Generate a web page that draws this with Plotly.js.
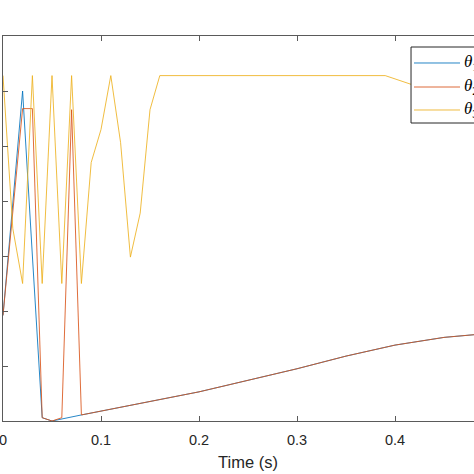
<!DOCTYPE html>
<html>
<head>
<meta charset="utf-8">
<script src="https://cdn.plot.ly/plotly-3.0.1.min.js"></script>
<style>
html, body { margin: 0; padding: 0; overflow: hidden; background: #fff; }
#wrap { position: relative; width: 474px; height: 474px; overflow: hidden; }
#chart { position: absolute; left: -40px; top: 0; width: 560px; height: 474px; }
</style>
</head>
<body>
<div id="wrap"><div id="chart"></div></div>
<script>
// Series names
const seriesNames = ["<i>θ</i><sub>1</sub>", "<i>θ</i><sub>2</sub>", "<i>θ</i><sub>3</sub>"];

// θ1 (rad) vs time (s) — coincides with θ2 after 0.08 s
const time1 = [0, 0.01, 0.02, 0.03, 0.04, 0.05, 0.06, 0.07, 0.08, 0.10, 0.15, 0.20, 0.25, 0.30, 0.35, 0.40, 0.45, 0.50];
const theta1 = [0.96, 1.98, 3.0, 1.5, 0.03, 0.0, 0.02, 0.04, 0.055, 0.09, 0.175, 0.265, 0.37, 0.475, 0.59, 0.69, 0.76, 0.80];

// θ2 (rad) vs time (s)
const time2 = [0, 0.01, 0.02, 0.03, 0.04, 0.05, 0.06, 0.07, 0.08, 0.10, 0.15, 0.20, 0.25, 0.30, 0.35, 0.40, 0.45, 0.50];
const theta2 = [0.96, 1.90, 2.84, 2.84, 0.03, 0.0, 0.03, 2.83, 0.055, 0.09, 0.175, 0.265, 0.37, 0.475, 0.59, 0.69, 0.76, 0.80];

// θ3 (rad) vs time (s)
const time3 = [0, 0.01, 0.02, 0.03, 0.04, 0.05, 0.06, 0.07, 0.08, 0.09, 0.10, 0.11, 0.12, 0.13, 0.14, 0.15, 0.16, 0.39, 0.40, 0.41, 0.42, 0.45, 0.50];
const theta3 = [3.14, 1.75, 1.25, 3.14, 1.25, 3.14, 1.25, 3.14, 1.25, 2.35, 2.65, 3.14, 2.53, 1.49, 1.89, 2.83, 3.14, 3.14, 3.11, 3.08, 3.05, 2.97, 2.85];

// Axis ticks
const xTickVals = [0, 0.1, 0.2, 0.3, 0.4, 0.5];
const xTickText = ["0", "0.1", "0.2", "0.3", "0.4", "0.5"];
const yTickVals = [0, 0.5, 1, 1.5, 2, 2.5, 3, 3.5];
const yTickText = ["0", "0.5", "1", "1.5", "2", "2.5", "3", "3.5"];
const xTitle = "Time (s)";

const colors = ["#0072BD", "#D95319", "#EDB120"];

const traces = [
  {x: time1, y: theta1, name: seriesNames[0]},
  {x: time2, y: theta2, name: seriesNames[1]},
  {x: time3, y: theta3, name: seriesNames[2]}
].map((t, i) => Object.assign(t, {
  type: "scatter", mode: "lines", opacity: 0.85,
  line: {color: colors[i], width: 1}
}));

const axisCommon = {
  showgrid: false, zeroline: false, showline: true, mirror: "ticks",
  linecolor: "#5a5a5a", linewidth: 1,
  ticks: "inside", ticklen: 5, tickcolor: "#5a5a5a", tickwidth: 1,
  automargin: false
};

// custom legend (MATLAB style, long sample lines), in paper coordinates
const legBox = {x0: 0.8327, x1: 1.06, y0: 0.774, y1: 0.9714};
const legLineX = [0.8388, 0.9327];
const legRowY = [0.9299, 0.8675, 0.8078];
const legTextX = 0.9367;

const shapes = [{
  type: "rect", xref: "paper", yref: "paper", layer: "above",
  x0: legBox.x0, x1: legBox.x1, y0: legBox.y0, y1: legBox.y1,
  fillcolor: "#ffffff", line: {color: "#262626", width: 1}
}];
const annotations = [{
  xref: "paper", yref: "paper", x: 0.5, y: 0, yshift: -41,
  xanchor: "center", yanchor: "middle", showarrow: false,
  text: xTitle, font: {size: 16.5, color: "#262626"}
}];
seriesNames.forEach((nm, i) => {
  shapes.push({
    type: "line", xref: "paper", yref: "paper", layer: "above",
    x0: legLineX[0], x1: legLineX[1], y0: legRowY[i], y1: legRowY[i],
    opacity: 0.85, line: {color: colors[i], width: 1}
  });
  annotations.push({
    xref: "paper", yref: "paper", x: legTextX, y: legRowY[i],
    xanchor: "left", yanchor: "middle", showarrow: false,
    text: nm, font: {family: "Liberation Serif, Times New Roman, serif", size: 17, color: "#000"}
  });
});

const layout = {
  width: 560, height: 474,
  margin: {l: 43, r: 27, t: 36, b: 53},
  paper_bgcolor: "#ffffff", plot_bgcolor: "#ffffff",
  font: {family: "Liberation Sans, Arial, sans-serif", size: 14, color: "#262626"},
  showlegend: false,
  xaxis: Object.assign({}, axisCommon, {
    range: [0, 0.5], tickvals: xTickVals, ticktext: xTickText,
    tickfont: {size: 14.5, color: "#262626"}, ticklabelstandoff: 6
  }),
  yaxis: Object.assign({}, axisCommon, {
    range: [0, 3.5], tickvals: yTickVals, ticktext: yTickText,
    tickfont: {size: 14.5, color: "#262626"}, ticklabelstandoff: 6
  }),
  shapes: shapes,
  annotations: annotations
};

Plotly.newPlot("chart", traces, layout, {staticPlot: true, displayModeBar: false});
</script>
</body>
</html>
